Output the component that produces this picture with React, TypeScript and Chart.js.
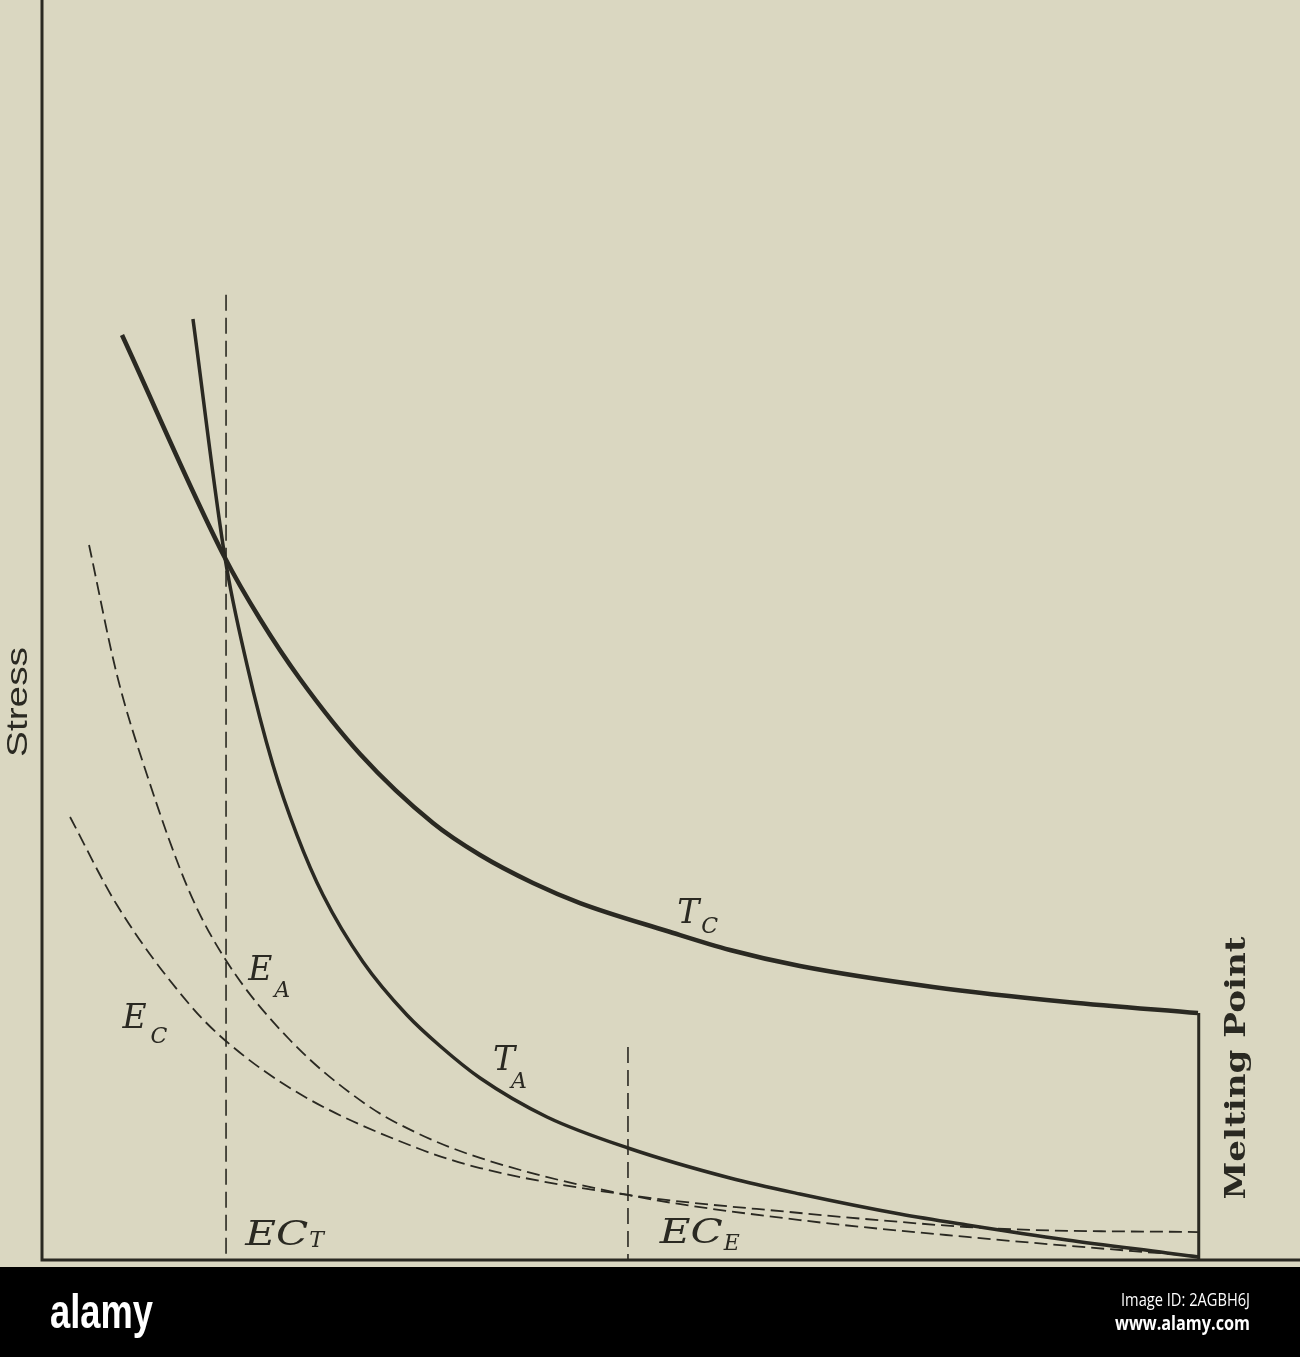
import React, { useEffect, useRef } from 'react';
import { Chart, registerables } from 'chart.js';

Chart.register(...registerables);

// Temperature (0-100, left axis to right edge) and stress (0-100, bottom to top)
const tcTemp = [6.36, 14.55, 17.33, 20.51, 25.28, 31.08, 34.82, 39.03, 42.77, 49.68, 54.69, 60.25, 70.83, 81.48, 91.89];
const tcStress = [73.41, 55.71, 50.87, 46.11, 40.16, 34.68, 32.14, 29.92, 28.33, 26.11, 24.6, 23.33, 21.67, 20.48, 19.6];

const taTemp = [12.0, 14.55, 16.3, 18.36, 20.27, 22.34, 25.52, 29.01, 31.64, 34.82, 40.14, 46.58, 54.69, 60.25, 68.2, 73.53, 81.48, 89.43, 91.89];
const taStress = [74.68, 55.71, 47.22, 39.29, 33.73, 28.97, 23.65, 19.44, 16.98, 14.44, 11.35, 8.89, 6.51, 5.24, 3.65, 2.78, 1.59, 0.56, 0.24];

const eaTemp = [3.74, 5.96, 8.35, 11.76, 14.71, 19.71, 25.83, 29.81, 34.82, 46.58, 60.25, 73.53, 86.72, 91.89];
const eaStress = [56.75, 46.43, 38.49, 29.13, 23.65, 17.46, 12.3, 10.08, 8.1, 5.16, 3.17, 1.83, 0.71, 0.32];

const ecTemp = [2.23, 5.96, 11.76, 14.71, 20.51, 29.81, 34.82, 46.58, 60.25, 68.2, 73.53, 78.78, 91.89];
const ecStress = [35.16, 28.17, 20.24, 17.3, 13.17, 8.89, 7.3, 5.16, 3.73, 3.02, 2.62, 2.38, 2.22];

const ectTemp = [14.63, 14.63];
const ectStress = [76.6, 0];

const eceTemp = [46.58, 46.58];
const eceStress = [16.9, 0];

const meltTemp = [91.95, 91.95];
const meltStress = [19.6, 0];

// Curve labels (main letter + subscript), anchored in chart units
const curveLabels = [
  { main: 'T', sub: 'C', x: 50.5, y: 26.75, dx: 24, dy: 10 },
  { main: 'T', sub: 'A', x: 35.85, y: 15.1, dx: 18, dy: 18 },
  { main: 'E', sub: 'A', x: 16.4, y: 22.2, dx: 26, dy: 17 },
  { main: 'E', sub: 'C', x: 6.4, y: 18.4, dx: 28, dy: 15 },
  { main: 'EC', sub: 'T', x: 16.15, y: 1.2, dx: 64, dy: 2 },
  { main: 'EC', sub: 'E', x: 49.1, y: 1.35, dx: 64, dy: 7 },
];

const INK = '#2a2922';
const PAPER = '#dad7c1';

function pts(xs: number[], ys: number[]) {
  return xs.map((x, i) => ({ x, y: ys[i] }));
}

function drawFit(ctx: CanvasRenderingContext2D, text: string, x: number, y: number, font: string, width: number | null, align: CanvasTextAlign, rotate = 0) {
  ctx.save();
  ctx.font = font;
  const w = ctx.measureText(text).width;
  const s = width ? width / w : 1;
  ctx.translate(x, y);
  if (rotate) ctx.rotate(rotate);
  ctx.scale(s, 1);
  ctx.textAlign = align;
  ctx.textBaseline = 'alphabetic';
  ctx.fillText(text, 0, 0);
  ctx.restore();
}

const decorPlugin = {
  id: 'decor',
  beforeDraw(chart: any) {
    const ctx = chart.ctx as CanvasRenderingContext2D;
    ctx.save();
    ctx.fillStyle = PAPER;
    ctx.fillRect(0, 0, chart.width, chart.height);
    ctx.restore();
  },
  afterDatasetsDraw(chart: any) {
    const ctx = chart.ctx as CanvasRenderingContext2D;
    const xs = chart.scales.x;
    const ys = chart.scales.y;
    const x0 = xs.getPixelForValue(0);
    const x1 = xs.getPixelForValue(100);
    const y0 = ys.getPixelForValue(0);
    const y1 = ys.getPixelForValue(100);

    // axes
    ctx.save();
    ctx.strokeStyle = INK;
    ctx.lineWidth = 3;
    ctx.beginPath();
    ctx.moveTo(x0, y1);
    ctx.lineTo(x0, y0);
    ctx.lineTo(x1, y0);
    ctx.stroke();
    ctx.restore();

    ctx.save();
    ctx.fillStyle = INK;
    // curve labels
    for (const l of curveLabels) {
      const px = xs.getPixelForValue(l.x);
      const py = ys.getPixelForValue(l.y);
      const mainW = l.main.length > 1 ? 63 : null;
      drawFit(ctx, l.main, px, py, 'italic 33px "DejaVu Serif"', mainW, 'left');
      drawFit(ctx, l.sub, px + l.dx, py + l.dy, 'italic 22px "DejaVu Serif"', null, 'left');
    }

    // axis titles
    drawFit(ctx, 'Stress', x0 - 15, (y0 + y1) / 2 + 72, '30px "Liberation Sans"', 110, 'center', -Math.PI / 2);
    drawFit(ctx, 'Melting Point', 1245, 1068, 'bold 28px "DejaVu Serif"', 263, 'center', -Math.PI / 2);
    ctx.restore();

    // banner
    ctx.save();
    ctx.fillStyle = '#000';
    ctx.fillRect(0, 1267, chart.width, chart.height - 1267);
    ctx.fillStyle = '#fff';
    drawFit(ctx, 'alamy', 50, 1328, 'bold 49px "Liberation Sans"', 103, 'left');
    drawFit(ctx, 'Image ID: 2AGBH6J', 1250, 1306, '18px "Open Sans"', 129, 'right');
    drawFit(ctx, 'www.alamy.com', 1250, 1330, 'bold 19px "Open Sans"', 135, 'right');
    ctx.restore();
  },
};

export default function App() {
  const ref = useRef<HTMLCanvasElement | null>(null);

  useEffect(() => {
    if (!ref.current) return;
    const base = {
      borderColor: INK,
      pointRadius: 0,
      fill: false,
      clip: false as any,
    };
    const chart = new Chart(ref.current, {
      type: 'line',
      data: {
        datasets: [
          { ...base, label: 'T_C', data: pts(tcTemp, tcStress), borderWidth: 4.5, cubicInterpolationMode: 'monotone' },
          { ...base, label: 'T_A', data: pts(taTemp, taStress), borderWidth: 3.5, cubicInterpolationMode: 'monotone' },
          { ...base, label: 'E_A', data: pts(eaTemp, eaStress), borderWidth: 1.8, borderDash: [13, 6], cubicInterpolationMode: 'monotone' },
          { ...base, label: 'E_C', data: pts(ecTemp, ecStress), borderWidth: 1.8, borderDash: [13, 6], cubicInterpolationMode: 'monotone' },
          { ...base, label: 'EC_T', data: pts(ectTemp, ectStress), borderWidth: 1.6, borderDash: [16, 7], tension: 0 },
          { ...base, label: 'EC_E', data: pts(eceTemp, eceStress), borderWidth: 1.6, borderDash: [16, 7], tension: 0 },
          { ...base, label: 'Melting Point', data: pts(meltTemp, meltStress), borderWidth: 3, tension: 0 },
        ] as any,
      },
      options: {
        animation: false,
        responsive: false,
        devicePixelRatio: 1,
        layout: { padding: { left: 42, right: 0, top: 0, bottom: 97 } },
        plugins: { legend: { display: false }, tooltip: { enabled: false } },
        scales: {
          x: { type: 'linear', min: 0, max: 100, display: false },
          y: { type: 'linear', min: 0, max: 100, display: false },
        },
      },
      plugins: [decorPlugin],
    });
    return () => chart.destroy();
  }, []);

  return (
    <div style={{ position: 'absolute', left: 0, top: 0, width: 1300, height: 1357 }}>
      <canvas ref={ref} width={1300} height={1357} style={{ width: 1300, height: 1357, display: 'block' }} />
    </div>
  );
}
